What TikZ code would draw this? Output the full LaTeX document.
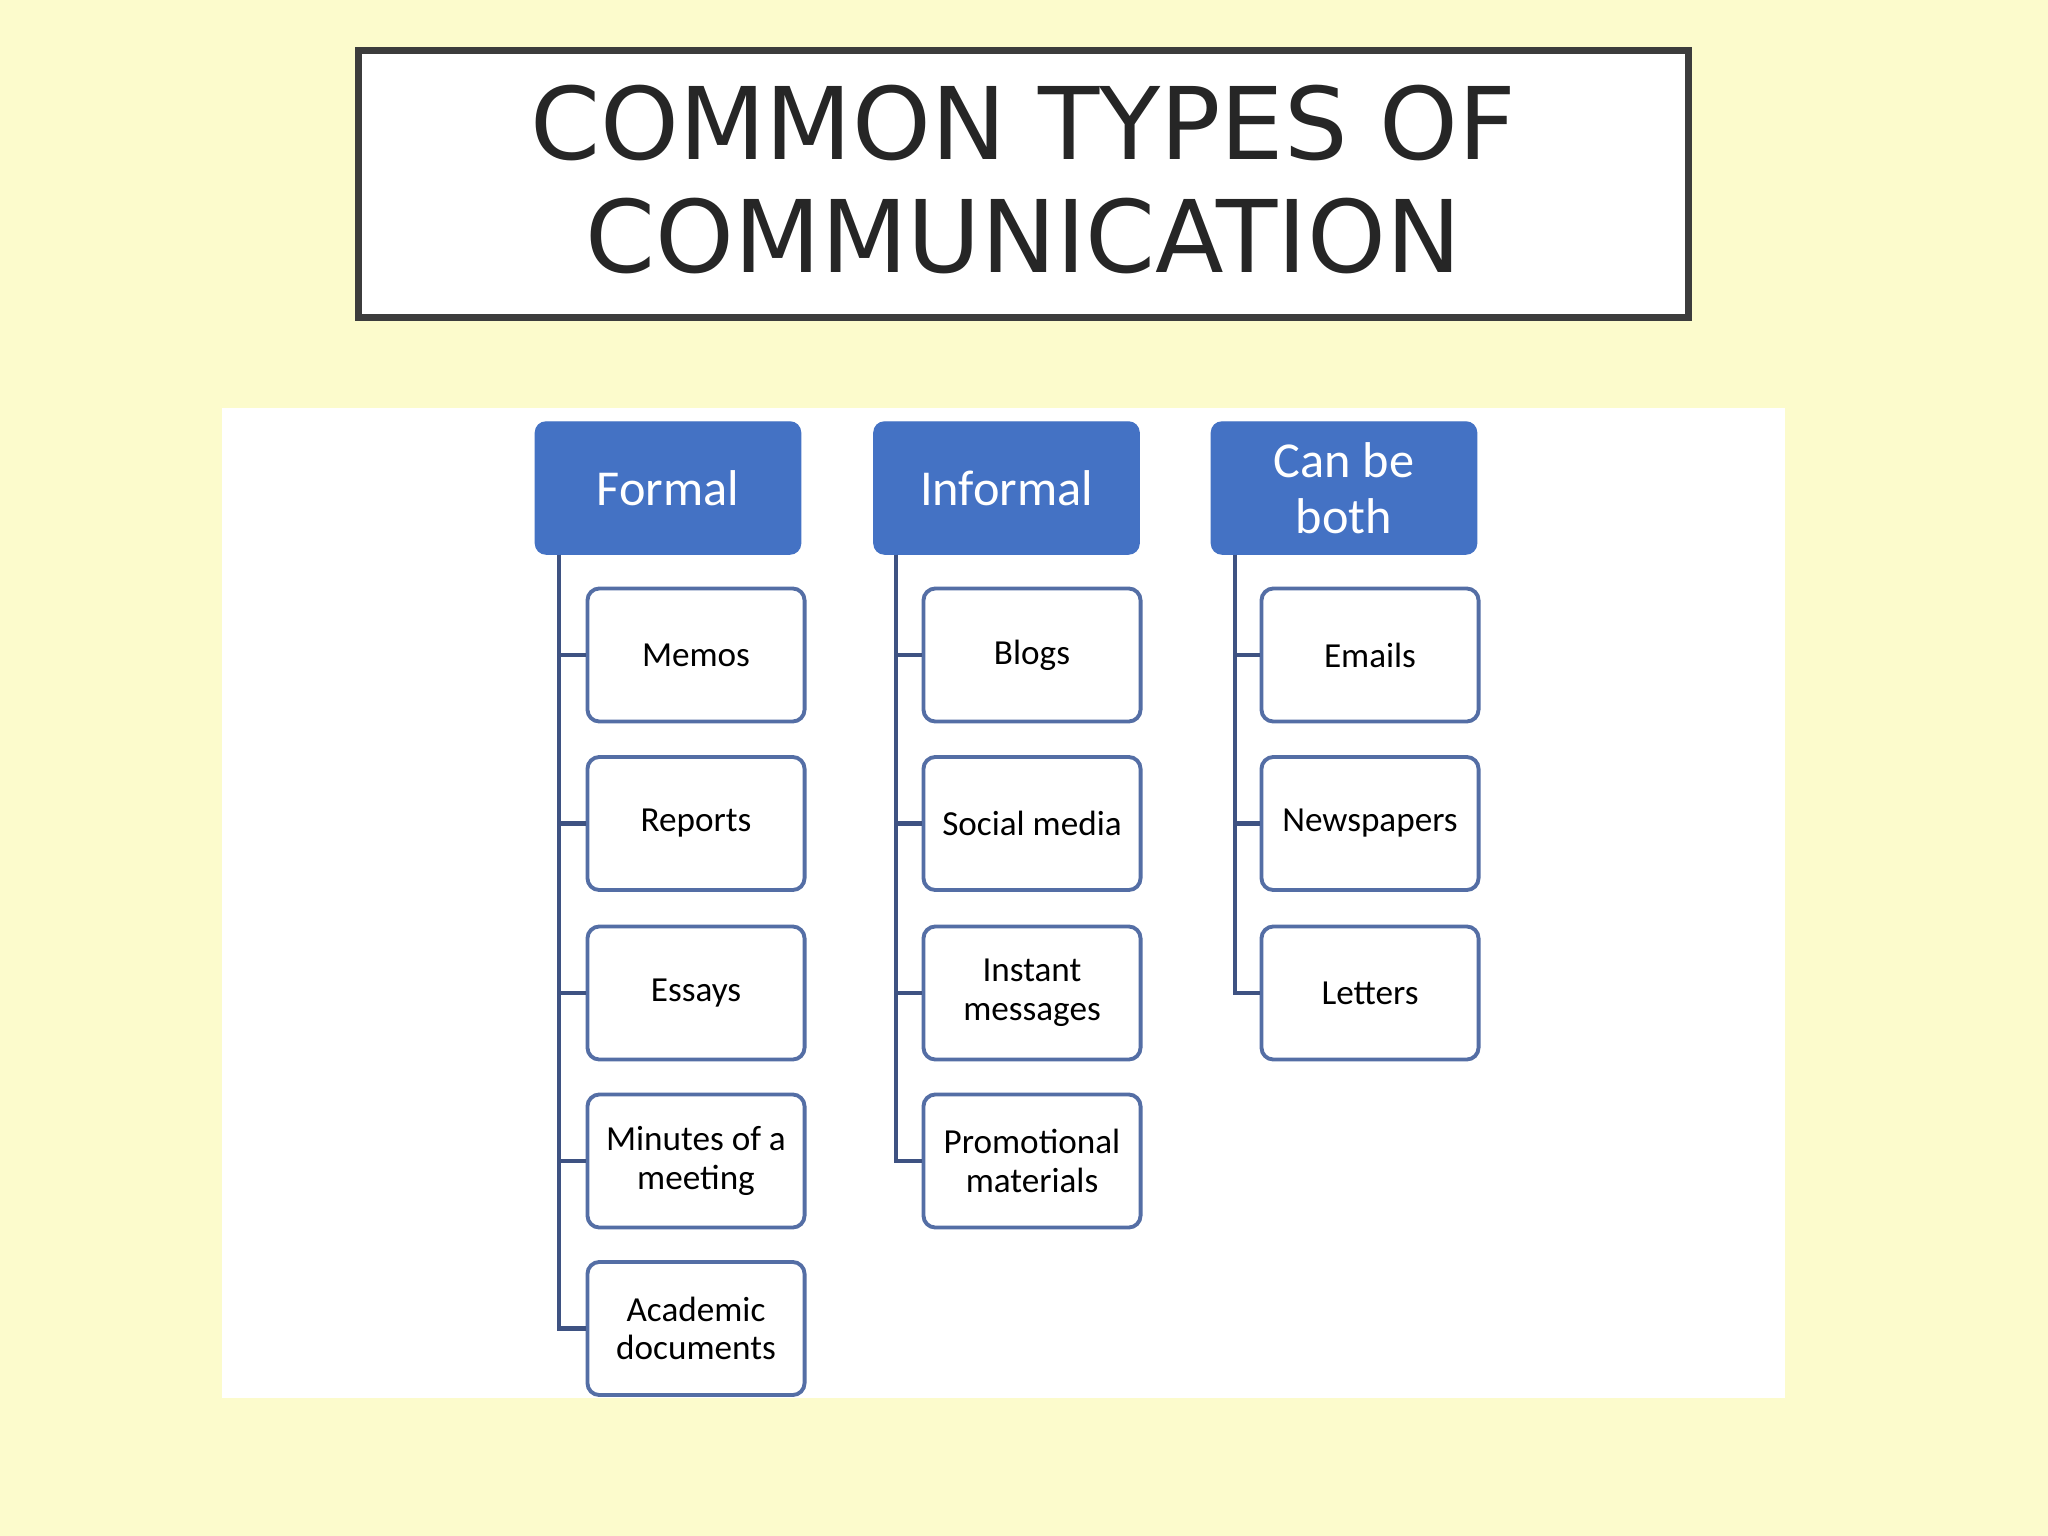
\documentclass[tikz,border=0pt]{standalone}
\usepackage{fontspec}
\setmainfont{Carlito}
\newfontfamily\titlefont{DejaVu Sans}
\definecolor{pagebg}{RGB}{252,251,204}
\definecolor{headblue}{RGB}{68,114,196}
\definecolor{boxline}{RGB}{84,110,165}
\definecolor{linkline}{RGB}{62,82,130}
\definecolor{titleink}{RGB}{38,38,38}
\begin{document}
\begin{tikzpicture}[x=0.01cm, y=-0.01cm,
  titlebox/.style={draw=titleink!90, line width=2pt, fill=white, minimum width=13.29cm, minimum height=2.66cm,
    align=center, text=titleink, font=\titlefont\fontsize{28.5}{31.3}\selectfont},
  head/.style={fill=headblue, draw=headblue, rounded corners=3pt, minimum width=2.65cm, minimum height=1.32cm,
    inner sep=0pt, align=center, text=white, font=\fontsize{14.3}{16}\selectfont},
  item/.style={fill=white, draw=boxline, line width=1.1pt, rounded corners=3.4pt, minimum width=2.17cm,
    minimum height=1.33cm, inner sep=0pt, align=center, font=\fontsize{10}{11}\selectfont},
  link/.style={draw=linkline, line width=1.2pt}]

\useasboundingbox[fill=pagebg] (0,0) rectangle (2048,1536);
\fill[white] (222,408) rectangle (1785,1398);

% title
\node[titlebox] (title) at (1023.5,184) {\raisebox{4pt}{COMMON TYPES OF}\\\raisebox{3pt}{COMMUNICATION}};

% headers
\node[head] (formal) at (668,488) {Formal};
\node[head] (informal) at (1006.5,488) {Informal};
\node[head] (both) at (1344,488) {Can be\\both};

% formal
\node[item] (f1) at (696,655) {Memos};
\node[item] (f2) at (696,823.5) {Reports};
\node[item] (f3) at (696,993) {Essays};
\node[item] (f4) at (696,1161) {Minutes of a\\meeting};
\node[item] (f5) at (696,1328.5) {Academic\\documents};

% informal
\node[item] (i1) at (1032,655) {Blogs};
\node[item] (i2) at (1032,823.5) {Social media};
\node[item] (i3) at (1032,993) {Instant\\messages};
\node[item] (i4) at (1032,1161) {Promotional\\materials};

% both
\node[item] (b1) at (1370,655) {Emails};
\node[item] (b2) at (1370,823.5) {Newspapers};
\node[item] (b3) at (1370,993) {Letters};

% connectors
\foreach \c in {f1,f2,f3,f4,f5}
  \draw[link] (formal.south west) ++(24.5,0) |- (\c.west);
\foreach \c in {i1,i2,i3,i4}
  \draw[link] (informal.south west) ++(23,0) |- (\c.west);
\foreach \c in {b1,b2,b3}
  \draw[link] (both.south west) ++(24,0) |- (\c.west);
\end{tikzpicture}
\end{document}
